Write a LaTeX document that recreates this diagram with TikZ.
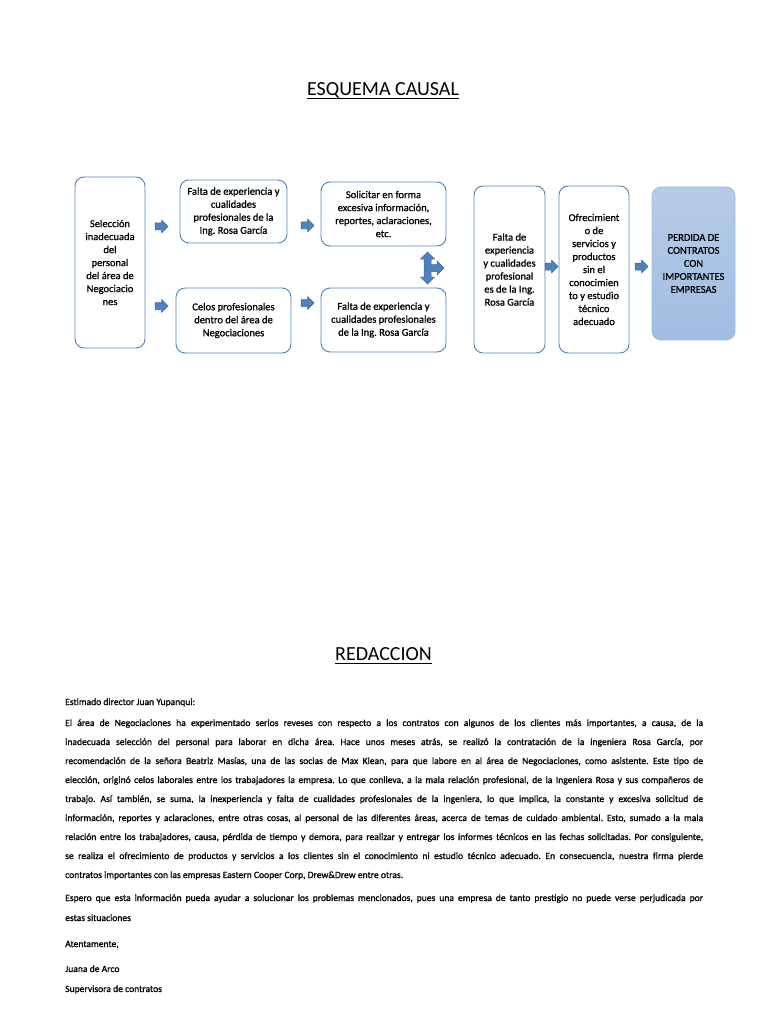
\documentclass[tikz,border=0pt]{standalone}
\usepackage{fontspec}
\setmainfont{Carlito}
\newfontfamily\gruesa{Carlito}[FakeBold=1.0]
\usetikzlibrary{shapes.arrows}
\definecolor{azul}{RGB}{79,129,189}
\definecolor{azulosc}{RGB}{62,104,158}
\definecolor{celeste1}{RGB}{182,204,232}
\definecolor{celeste2}{RGB}{160,189,226}
\newcommand{\jline}[1]{\makebox[638pt][s]{#1}}
\frenchspacing

\begin{document}
\begin{tikzpicture}[x=1pt,y=-1pt,
    caja/.style={draw=azul, line width=0.9pt, rounded corners=9pt, fill=white, align=center, inner sep=1pt, font=\gruesa\fontsize{10.5}{13}\selectfont},
    meta/.style={caja, draw=celeste2, top color=celeste1, bottom color=celeste2},
    flechita/.pic={\filldraw[draw=azulosc, fill=azul, line width=0.5pt] (-6.5,-3.5) -- (0,-3.5) -- (0,-6.5)
      -- (6.5,0) -- (0,6.5) -- (0,3.5) -- (-6.5,3.5) -- cycle;},
    titulo/.style={anchor=base, inner sep=0pt, font=\fontsize{20}{24}\selectfont},
    linea/.style={anchor=base west, inner sep=0pt, font=\gruesa\fontsize{9.6}{11}\selectfont}]

\fill[white] (0,0) rectangle (768,1024);
\useasboundingbox (0,0) rectangle (768,1024);

\node [titulo] (T) at (383,96) {ESQUEMA CAUSAL};
\draw[line width=1pt] ([yshift=-3pt]T.base west) -- ([yshift=-3pt]T.base east);

\node [caja, minimum width=70pt, minimum height=171pt] (S) at (110,262.5)
  {Selección\\inadecuada\\del\\personal\\del área de\\Negociacio\\nes};
\node [caja, minimum width=107pt, minimum height=63pt] (F1) at (233.5,211.5)
  {Falta de experiencia y\\cualidades\\profesionales de la\\Ing. Rosa García};
\node [caja, minimum width=115pt, minimum height=65pt] (C) at (233.5,320.5)
  {Celos profesionales\\dentro del área de\\Negociaciones};
\node [caja, minimum width=125pt, minimum height=64pt] (Sol) at (383.5,214)
  {Solicitar en forma\\excesiva información,\\reportes, aclaraciones,\\etc.};
\node [caja, minimum width=125pt, minimum height=64pt] (F2) at (383.5,320)
  {Falta de experiencia y\\cualidades profesionales\\de la Ing. Rosa García};
\node [caja, minimum width=71pt, minimum height=167pt] (F3) at (509.5,269.5)
  {Falta de\\experiencia\\y cualidades\\profesional\\es de la Ing.\\Rosa García};
\node [caja, minimum width=70pt, minimum height=167pt] (O) at (594,269.5)
  {Ofrecimient\\o de\\servicios y\\productos\\sin el\\conocimien\\to y estudio\\técnico\\adecuado};
\node [meta, minimum width=83pt, minimum height=153pt] (P) at (693.5,263.5)
  {PERDIDA DE\\CONTRATOS\\CON\\IMPORTANTES\\EMPRESAS};

\pic (a1) at (161.5,226.5) {flechita};
\pic (a2) at (161.5,306) {flechita};
\pic (a3) at (307.5,225.5) {flechita};
\pic (a4) at (307.5,303) {flechita};
\pic (a5) at (551.5,266.5) {flechita};
\pic (a6) at (641.5,266.5) {flechita};
\filldraw[draw=azulosc, fill=azul, line width=0.5pt] (427.5,252) -- (434.5,259) -- (431,259)
  -- (431,264.5) -- (437,264.5) -- (437,261) -- (444,268) -- (437,275) -- (437,271.5)
  -- (431,271.5) -- (431,277) -- (434.5,277) -- (427.5,284) -- (420.5,277) -- (424,277)
  -- (424,259) -- (420.5,259) -- cycle;

\node [titulo] (R) at (383.5,660) {REDACCION};
\draw[line width=1pt] ([yshift=-3pt]R.base west) -- ([yshift=-3pt]R.base east);

\node [linea] (L0) at (65,705) {Estimado director Juan Yupanqui:};
\node [linea] (L1) at (65,726) {\jline{El área de Negociaciones ha experimentado serios reveses con respecto a los contratos con algunos de los clientes más importantes, a causa, de la}};
\node [linea] (L2) at (65,745) {\jline{inadecuada selección del personal para laborar en dicha área. Hace unos meses atrás, se realizó la contratación de la ingeniera Rosa García, por}};
\node [linea] (L3) at (65,764) {\jline{recomendación de la señora Beatriz Masías, una de las socias de Max Klean, para que labore en al área de Negociaciones, como asistente. Este tipo de}};
\node [linea] (L4) at (65,783) {\jline{elección, originó celos laborales entre los trabajadores la empresa. Lo que conlleva, a la mala relación profesional, de la Ingeniera Rosa y sus compañeros de}};
\node [linea] (L5) at (65,802) {\jline{trabajo. Así también, se suma, la inexperiencia y falta de cualidades profesionales de la ingeniera, lo que implica, la constante y excesiva solicitud de}};
\node [linea] (L6) at (65,821) {\jline{información, reportes y aclaraciones, entre otras cosas, al personal de las diferentes áreas, acerca de temas de cuidado ambiental. Esto, sumado a la mala}};
\node [linea] (L7) at (65,840) {\jline{relación entre los trabajadores, causa, pérdida de tiempo y demora, para realizar y entregar los informes técnicos en las fechas solicitadas. Por consiguiente,}};
\node [linea] (L8) at (65,859) {\jline{se realiza el ofrecimiento de productos y servicios a los clientes sin el conocimiento ni estudio técnico adecuado. En consecuencia, nuestra firma pierde}};
\node [linea] (L9) at (65,878) {contratos importantes con las empresas Eastern Cooper Corp, Drew\&Drew entre otras.};
\node [linea] (E1) at (65,901) {\jline{Espero que esta información pueda ayudar a solucionar los problemas mencionados, pues una empresa de tanto prestigio no puede verse perjudicada por}};
\node [linea] (E2) at (65,921) {estas situaciones};
\node [linea] (A) at (65,947) {Atentamente,};
\node [linea] (J) at (65,972) {Juana de Arco};
\node [linea] (Sup) at (65,992) {Supervisora de contratos};
\end{tikzpicture}
\end{document}
